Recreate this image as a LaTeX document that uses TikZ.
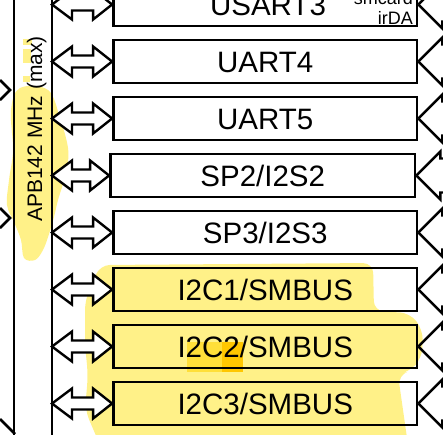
\documentclass[tikz,border=0pt]{standalone}
\usepackage{fontspec}
\setmainfont{Liberation Sans}
\usetikzlibrary{calc}
\definecolor{hly}{RGB}{255,241,136}
\definecolor{hlmid}{RGB}{255,223,58}
\definecolor{hldark}{RGB}{255,199,0}
\begin{document}
\begin{tikzpicture}[x=1pt,y=-1pt,
  busline/.style={draw=black, line width=2.6pt},
  boxst/.style={draw=black, line width=2.8pt, rectangle, inner sep=0pt,
    minimum height=43pt, text height=21.1pt, text depth=0pt,
    font=\fontsize{29.5}{30}\selectfont},
  dbl/.style={draw=black, fill=white, line width=2.4pt, line join=miter},
  rhead/.style={draw=black, line width=2.4pt, line join=miter},
  hl/.style={fill=hly, draw=none}]
\useasboundingbox (0,0) rectangle (443,434);
\clip (0,0) rectangle (443,434);

% ---- yellow highlights ----
\fill[hl] plot[smooth cycle, tension=0.6] coordinates {
  (20,88) (48,90) (60,118) (68,148) (67,168) (63,184) (58,200) (54,217)
  (49,234) (43,250) (35,260) (24,258) (21,240) (14,222) (7,205) (9,180)
  (13,150) (11,110)};
\fill[hl] (23,39) rectangle (32,45);
\fill[hl] (23,49) rectangle (31,63);
\fill[hl] (23,76) rectangle (30,82);
\fill[hl, rounded corners=10pt] (100,265) -- (373,263) -- (374,311)
  -- (410,313) -- (423,330) -- (422,358) -- (410,371) -- (398,375)
  -- (408,445) -- (100,445) -- (85,410) -- (88,375) -- (85,345)
  -- (85,300) -- cycle;
\fill[hlmid] (187,342) rectangle (222,372);
\fill[hldark] (222,342) rectangle (243,372);

% ---- vertical bus lines and left chevrons ----
\coordinate (apbTop) at (14,-5);
\coordinate (apbBot) at (14,440);
\coordinate (busTop) at (52,-5);
\coordinate (busBot) at (52,440);
\draw[busline] (apbTop) -- (apbBot);
\draw[busline] (busTop) -- (busBot);
\coordinate (c1) at (10,90);
\coordinate (c2) at (10,218);
\coordinate (c3) at (15,434);
\draw[busline, line join=miter] ($(c1)+(-10,-10)$) -- (c1) -- ($(c1)+(-10,10)$);
\draw[busline, line join=miter] ($(c2)+(-10,-10)$) -- (c2) -- ($(c2)+(-10,10)$);
\draw[busline] ($(c3)+(-15,-15)$) -- (c3);

% ---- text on APB line ----
\node[rotate=90, anchor=base, inner sep=0pt, font=\fontsize{21}{22}\selectfont]
  (apb) at (42,129) {APB142 MHz (max)};

% ---- peripheral boxes ----
\node[boxst, minimum width=303.5pt] (b0) at (265.25,4.5) {};
\node[boxst, minimum width=303.5pt] (b1) at (265.25,61.5) {UART4};
\node[boxst, minimum width=303.5pt] (b2) at (265.25,118.5) {UART5};
\node[boxst, minimum width=304.5pt] (b3) at (262.75,175.5) {SP2/I2S2};
\node[boxst, minimum width=303.5pt] (b4) at (265.25,232.5) {SP3/I2S3};
\node[boxst, minimum width=303.5pt] (b5) at (265.25,289.5) {I2C1/SMBUS};
\node[boxst, minimum width=303.5pt] (b6) at (265.25,346.5) {I2C2/SMBUS};
\node[boxst, minimum width=303.5pt] (b7) at (265.25,403.5) {I2C3/SMBUS};
\node[inner sep=0pt, anchor=base, font=\fontsize{29.5}{30}\selectfont]
  (usart) at (268,15) {USART3};
\node[inner sep=0pt, anchor=base east, font=\fontsize{18}{19}\selectfont]
  (smc) at (413,4.5) {smcard};
\node[inner sep=0pt, anchor=base east, font=\fontsize{18}{19}\selectfont]
  (irda) at (413,24) {irDA};

% ---- double arrows from the bus to each box, and arrowheads on the right ----
\foreach \i/\y in {0/4.5,1/61.5,2/118.5,3/175.5,4/232.5,5/289.5,6/346.5,7/403.5}{
  \coordinate (bus\i) at (52,\y);
  \draw[dbl] (bus\i) -- ++(20,-15) -- ++(0,9)
    -- ($(b\i.west)+(-19,-6)$) -- ++(0,-9) -- (b\i.west)
    -- ++(-19,15) -- ++(0,-9) -- ($(bus\i)+(20,6)$) -- ++(0,9) -- cycle;
  \draw[rhead] (b\i.east) -- ++(24,-24) -- ++(0,7) -- ++(6,0);
  \draw[rhead] (b\i.east) -- ++(24,24) -- ++(0,-7) -- ++(6,0);
}
\end{tikzpicture}
\end{document}
